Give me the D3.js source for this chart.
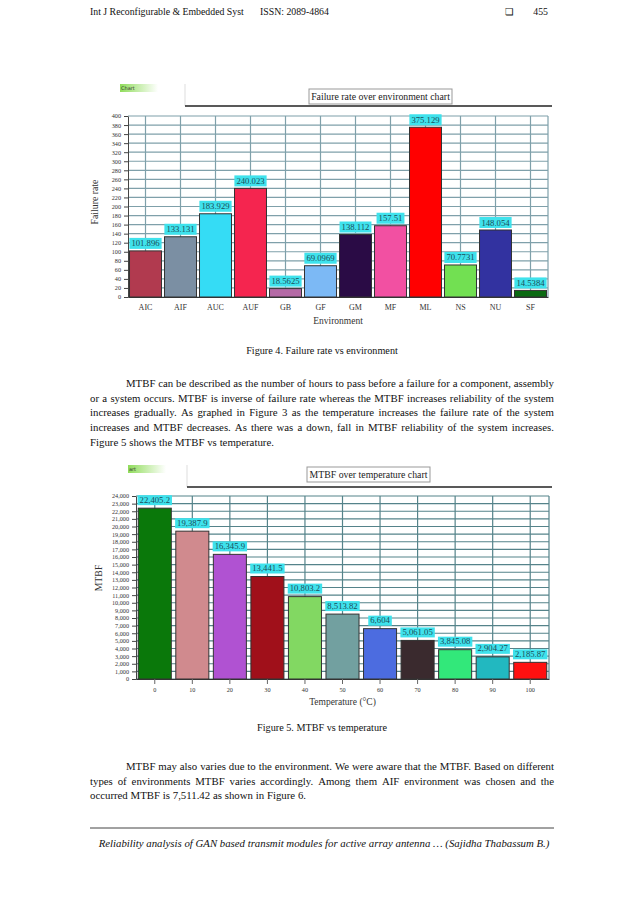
<!DOCTYPE html>
<html>
<head>
<meta charset="utf-8">
<script src="https://cdn.jsdelivr.net/npm/d3@7"></script>
<style>
  body { margin: 0; background: #fff; }
  svg { display: block; }
  .serif { font-family: "Liberation Serif", "Times New Roman", serif; }
</style>
</head>
<body>
<div id="page"></div>
<script>
// ---- data ----
const envCats = ["AIC", "AIF", "AUC", "AUF", "GB", "GF", "GM", "MF", "ML", "NS", "NU", "SF"];
const envRates = [101.896, 133.131, 183.929, 240.023, 18.5625, 69.0969, 138.112, 157.51, 375.129, 70.7731, 148.054, 14.5384];
const envColors = ["#b13a4f", "#7b8fa3", "#35dcf5", "#f5254f", "#b56aa6", "#7cb9f5", "#2a0b45", "#f250a2", "#ff0000", "#72e052", "#3232a0", "#0b6a12"];
const rateTicks = d3.range(0, 401, 20);

const temps = [0, 10, 20, 30, 40, 50, 60, 70, 80, 90, 100];
const mtbf = [22405.2, 19387.9, 16345.9, 13441.5, 10803.2, 8513.82, 6604, 5061.05, 3845.08, 2904.27, 2185.87];
const tempColors = ["#0a780a", "#d08a8e", "#b052d2", "#a0101a", "#82d862", "#72a0a0", "#4c6ce0", "#3a2a2e", "#32e87a", "#22b8c0", "#ff1010"];
const mtbfTicks = d3.range(0, 24001, 1000);

const para1 = [
  "MTBF can be described as the number of hours to pass before a failure for a component, assembly",
  "or a system occurs. MTBF is inverse of failure rate whereas the MTBF increases reliability of the system",
  "increases gradually. As graphed in Figure 3 as the temperature increases the failure rate of the system",
  "increases and MTBF decreases. As there was a down, fall in MTBF reliability of the system increases.",
  "Figure 5 shows the MTBF vs temperature."
];
const para2 = [
  "MTBF may also varies due to the environment. We were aware that the MTBF. Based on different",
  "types of environments MTBF varies accordingly. Among them AIF environment was chosen and the",
  "occurred MTBF is 7,511.42 as shown in Figure 6."
];

const W = 638, H = 902;
const left = 90, right = 554;
const bodySize = 10.8;

const svg = d3.select("#page").append("svg")
  .attr("width", W).attr("height", H)
  .attr("class", "serif");

// ---- page header / footer ----
const head = svg.append("g").attr("font-size", 9.8).attr("fill", "#111");
head.append("text").attr("x", left).attr("y", 15).text("Int J Reconfigurable & Embedded Syst");
head.append("text").attr("x", 260).attr("y", 15).text("ISSN: 2089-4864");
head.append("text").attr("x", 505).attr("y", 15)
  .style("font-family", "DejaVu Sans").attr("font-size", 9.5).text("\u274F");
head.append("text").attr("x", 548).attr("y", 15).attr("text-anchor", "end").text("455");

svg.append("line").attr("x1", left).attr("x2", right).attr("y1", 828).attr("y2", 828)
  .attr("stroke", "#444").attr("stroke-width", 1);
svg.append("text").attr("x", (left + right) / 2 + 2).attr("y", 847)
  .attr("text-anchor", "middle").attr("font-size", bodySize).attr("font-style", "italic")
  .attr("fill", "#111")
  .text("Reliability analysis of GAN based transmit modules for active array antenna \u2026 (Sajidha Thabassum B.)");

// ---- justified paragraph lines ----
function paragraph(lines, y0, lh) {
  const g = svg.append("g").attr("font-size", bodySize).attr("fill", "#111");
  lines.forEach((ln, i) => {
    const x0 = i === 0 ? left + 36 : left;
    const words = ln.split(" ");
    const last = i === lines.length - 1;
    const ts = words.map(w => g.append("text").attr("y", y0 + i * lh).text(w));
    const widths = ts.map(t => t.node().getComputedTextLength());
    const sum = d3.sum(widths);
    const gap = last ? 2.8 : (right - x0 - sum) / (words.length - 1);
    let x = x0;
    ts.forEach((t, k) => { t.attr("x", x); x += widths[k] + gap; });
  });
}

// ---- chart panel header ----
function panelHeader(tag, tagX, tagY, lineX, lineY, boxX, boxW, boxY, title) {
  const defs = svg.append("defs");
  const id = "grad" + tagY;
  const gr = defs.append("linearGradient").attr("id", id);
  gr.append("stop").attr("offset", "0%").attr("stop-color", "#8fdc5a");
  gr.append("stop").attr("offset", "100%").attr("stop-color", "#8fdc5a").attr("stop-opacity", 0);
  svg.append("rect").attr("x", tagX).attr("y", tagY).attr("width", 38).attr("height", 8)
    .attr("fill", `url(#${id})`);
  svg.append("text").attr("x", tagX + 1).attr("y", tagY + 5.5).attr("font-size", 5)
    .attr("font-family", "DejaVu Sans").attr("fill", "#333").text(tag);
  svg.append("line").attr("x1", lineX).attr("x2", lineX).attr("y1", lineY - 22).attr("y2", lineY)
    .attr("stroke", "#ddd");
  svg.append("line").attr("x1", lineX).attr("x2", 552).attr("y1", lineY).attr("y2", lineY)
    .attr("stroke", "#222").attr("stroke-width", 1.6);
  svg.append("rect").attr("x", boxX).attr("y", boxY).attr("width", boxW).attr("height", 15)
    .attr("fill", "#fff").attr("stroke", "#999");
  svg.append("text").attr("x", boxX + boxW / 2).attr("y", boxY + 10.5).attr("text-anchor", "middle")
    .attr("font-size", 9.8).attr("fill", "#222").text(title);
}

// ---- bar chart ----
function barChart(o) {
  const x = d3.scaleBand().domain(o.cats).range([o.x0, o.x1])
    .paddingInner(o.pad).paddingOuter(o.pad / 2);
  const y = d3.scaleLinear().domain([0, o.max]).range([o.y0, o.y1]);
  const g = svg.append("g");

  // grid
  g.selectAll(".hg").data(o.ticks).enter().append("line")
    .attr("x1", o.x0).attr("x2", o.x1)
    .attr("y1", d => y(d)).attr("y2", d => y(d))
    .attr("stroke", o.grid).attr("stroke-width", 1.2);
  g.selectAll(".vg").data(o.cats).enter().append("line")
    .attr("x1", d => x(d) + x.bandwidth() / 2).attr("x2", d => x(d) + x.bandwidth() / 2)
    .attr("y1", o.y1).attr("y2", o.y0)
    .attr("stroke", o.grid).attr("stroke-width", 1.2);
  g.append("line").attr("x1", o.x1).attr("x2", o.x1).attr("y1", o.y1).attr("y2", o.y0)
    .attr("stroke", o.grid).attr("stroke-width", 1.2);

  // bars
  g.selectAll(".bar").data(o.vals).enter().append("rect")
    .attr("x", (d, i) => x(o.cats[i]))
    .attr("width", x.bandwidth())
    .attr("y", d => y(d))
    .attr("height", d => o.y0 - y(d))
    .attr("fill", (d, i) => o.colors[i])
    .attr("stroke", "#333").attr("stroke-width", 1);

  // axes
  const ya = g.append("g").attr("transform", `translate(${o.x0},0)`)
    .call(d3.axisLeft(y).tickValues(o.ticks).tickSize(4).tickSizeOuter(0).tickFormat(o.fmt));
  ya.selectAll("text").attr("font-size", 6.2).attr("font-family", "Liberation Serif").attr("fill", "#333");
  ya.selectAll("line, path").attr("stroke", "#444");

  const xa = g.append("g").attr("transform", `translate(0,${o.y0})`)
    .call(d3.axisBottom(x).tickSize(o.xTick).tickPadding(o.xPad).tickSizeOuter(0));
  xa.selectAll("text").attr("font-size", o.xFont).attr("font-family", "Liberation Serif").attr("fill", "#333");
  xa.selectAll("line").attr("stroke", "#666");
  xa.select("path").attr("stroke", "#333").attr("stroke-width", 1.2);

  // value labels
  const lab = g.selectAll(".lab").data(o.vals).enter().append("g")
    .attr("transform", (d, i) => `translate(${x(o.cats[i]) + x.bandwidth() / 2},${y(d) - o.labGap})`);
  const txt = lab.append("text").attr("text-anchor", "middle").attr("y", -2.5)
    .attr("font-size", o.labFont).attr("fill", "#1b4d5a").text(o.labFmt);
  txt.each(function () {
    const w = this.getComputedTextLength();
    d3.select(this.parentNode).insert("rect", "text")
      .attr("x", -w / 2 - 2).attr("y", -o.labH).attr("width", w + 4).attr("height", o.labH)
      .attr("fill", "#3fe2ec");
  });

  // axis titles
  svg.append("text").attr("transform", `translate(${o.yTitleX},${o.yTitleY}) rotate(-90)`)
    .attr("text-anchor", "middle").attr("font-size", 9.8).attr("fill", "#333").text(o.yTitle);
  svg.append("text").attr("x", (o.x0 + o.x1) / 2).attr("y", o.xTitleY)
    .attr("text-anchor", "middle").attr("font-size", 9.5).attr("fill", "#333").text(o.xTitle);
}

// ---- Figure 4 ----
panelHeader("Chart", 120, 84, 185, 106, 309, 143, 89, "Failure rate over environment chart");
barChart({
  cats: envCats, vals: envRates, colors: envColors, ticks: rateTicks, max: 400,
  x0: 128, x1: 548, y0: 297, y1: 116, pad: 0.086, grid: "#7fa0aa",
  fmt: d3.format("d"), xTick: 0, xPad: 7, xFont: 8,
  labGap: 2, labH: 11, labFont: 8.7, labFmt: d => d,
  yTitle: "Failure rate", yTitleX: 98, yTitleY: 202,
  xTitle: "Environment", xTitleY: 324
});
svg.append("text").attr("x", 322).attr("y", 354).attr("text-anchor", "middle")
  .attr("font-size", 10.2).attr("fill", "#111").text("Figure 4. Failure rate vs environment");

paragraph(para1, 387, 14.7);

// ---- Figure 5 ----
panelHeader("art", 128, 465, 187, 487, 307, 123, 467, "MTBF over temperature chart");
barChart({
  cats: temps, vals: mtbf, colors: tempColors, ticks: mtbfTicks, max: 24000,
  x0: 136, x1: 549, y0: 679, y1: 496, pad: 0.12, grid: "#55838a",
  fmt: d3.format(","), xTick: 5, xPad: 4, xFont: 6.2,
  labGap: 3, labH: 10, labFont: 8.7, labFmt: d3.format(","),
  yTitle: "MTBF", yTitleX: 102, yTitleY: 578,
  xTitle: "Temperature (\u00B0C)", xTitleY: 705
});
svg.append("text").attr("x", 322).attr("y", 731).attr("text-anchor", "middle")
  .attr("font-size", 10.2).attr("fill", "#111").text("Figure 5. MTBF vs temperature");

paragraph(para2, 770, 14.7);
</script>
</body>
</html>
